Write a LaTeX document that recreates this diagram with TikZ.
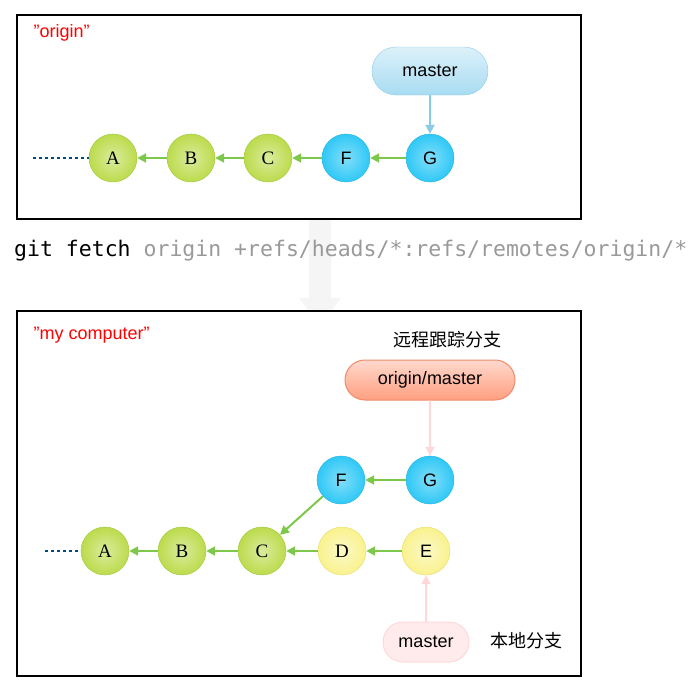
\documentclass[tikz,border=0pt]{standalone}
\usepackage{fontspec}
\setmainfont{Liberation Sans}
\newfontfamily\monof{DejaVu Sans Mono}
\newfontfamily\serf{Liberation Serif}
\newfontfamily\cjk{Noto Sans CJK SC}
\usetikzlibrary{arrows.meta,shapes.misc}
\definecolor{gfill}{HTML}{BCDB4C}\definecolor{gdraw}{HTML}{9CC83A}
\definecolor{bfill}{HTML}{2FC8F6}\definecolor{bdraw}{HTML}{25B3E0}
\definecolor{yfill}{HTML}{F9F28E}\definecolor{ydraw}{HTML}{E8DC6A}
\definecolor{arr}{HTML}{7DC84A}
\definecolor{pblue}{HTML}{A8DCF2}\definecolor{pblued}{HTML}{8CCBE8}
\definecolor{psal}{HTML}{FF9F80}\definecolor{psald}{HTML}{F08A6A}
\tikzset{
 commitc/.style={circle,minimum size=48pt,inner sep=0pt,font=\fontsize{18}{18}\selectfont},
 gc/.style={commitc,shade,inner color=gfill!55!white,outer color=gfill,draw=gdraw,font=\serf\fontsize{19}{19}\selectfont},
 bc/.style={commitc,shade,inner color=bfill!60!white,outer color=bfill,draw=bdraw},
 yc/.style={commitc,shade,inner color=yfill!50!white,outer color=yfill,draw=ydraw},
 pill/.style={rounded rectangle,inner sep=0pt,font=\fontsize{18}{18}\selectfont},
 ga/.style={draw=arr,line width=2pt,-{Triangle[length=9pt,width=9pt]}},
 box/.style={draw=black,line width=1.5pt}
}
\begin{document}
\begin{tikzpicture}[x=1pt,y=-1pt]
\useasboundingbox (0,0) rectangle (699,696);
\fill[gray!8] (309,220) -- (331,220) -- (331,298) -- (341,298) -- (320,326) -- (299,298) -- (309,298) -- cycle;
\draw[box] (17,15) rectangle (581,219);
\draw[box,fill=white] (17,311) rectangle (581,676);
\node[anchor=west,text=red,font=\fontsize{18}{18}\selectfont] (t1) at (30,33) {\char"22 origin\char"22};
\node[anchor=west,text=red,font=\fontsize{18}{18}\selectfont] (t2) at (30,335) {\char"22 my computer\char"22};
% top
\node[gc] (A1) at (113,158) {A};
\node[gc] (B1) at (191,158) {B};
\node[gc] (C1) at (268,158) {C};
\node[bc] (F1) at (346,158) {F};
\node[bc] (G1) at (430,158) {G};
\coordinate (d1) at (33,158);
\draw[dashed,draw=blue!40!cyan!50!black,line width=1.2pt] (d1) -- (A1);
\draw[ga] (B1) -- (A1); \draw[ga] (C1) -- (B1); \draw[ga] (F1) -- (C1); \draw[ga] (G1) -- (F1);
\node[pill,minimum width=116pt,minimum height=48pt,shade,top color=pblue!40!white,bottom color=pblue,draw=pblued] (m1) at (430,71) {master};
\draw[draw=pblued,line width=2pt,-{Triangle[length=9pt,width=9pt]}] (m1) -- (G1);
% command
\node[anchor=west,inner sep=0pt,font=\monof\fontsize{21.5}{22}\selectfont] (cmd) at (14,251) {git fetch \textcolor{gray!80}{origin +refs/heads/*:refs/remotes/origin/*}};
% bottom
\node[gc] (A2) at (105,551) {A};
\node[gc] (B2) at (182,551) {B};
\node[gc] (C2) at (262,551) {C};
\node[yc,font=\serf\fontsize{19}{19}\selectfont] (D2) at (342,551) {D};
\node[yc] (E2) at (426,551) {E};
\node[bc] (F2) at (341,480) {F};
\node[bc] (G2) at (430,480) {G};
\coordinate (d2) at (45,551);
\draw[dashed,draw=blue!40!cyan!50!black,line width=1.2pt] (d2) -- (A2);
\draw[ga] (B2) -- (A2); \draw[ga] (C2) -- (B2); \draw[ga] (D2) -- (C2); \draw[ga] (E2) -- (D2);
\draw[ga] (G2) -- (F2); \draw[ga] (F2) -- (C2);
\node[pill,minimum width=170pt,minimum height=40pt,shade,top color=psal!40!white,bottom color=psal,draw=psald,line width=1pt] (om) at (430,380) {origin/master};
\node[font=\cjk\fontsize{18}{18}\selectfont] (l1) at (447,340) {远程跟踪分支};
\draw[draw=red!15,line width=2pt,-{Triangle[length=9pt,width=9pt]}] (om) -- (G2);
\node[pill,minimum width=86pt,minimum height=40pt,fill=red!8,draw=red!15,line width=1pt] (m2) at (426,642) {master};
\node[font=\cjk\fontsize{18}{18}\selectfont] (l2) at (526,641) {本地分支};
\draw[draw=red!15,line width=2pt,-{Triangle[length=9pt,width=9pt]}] (m2) -- (E2);
\end{tikzpicture}
\end{document}
